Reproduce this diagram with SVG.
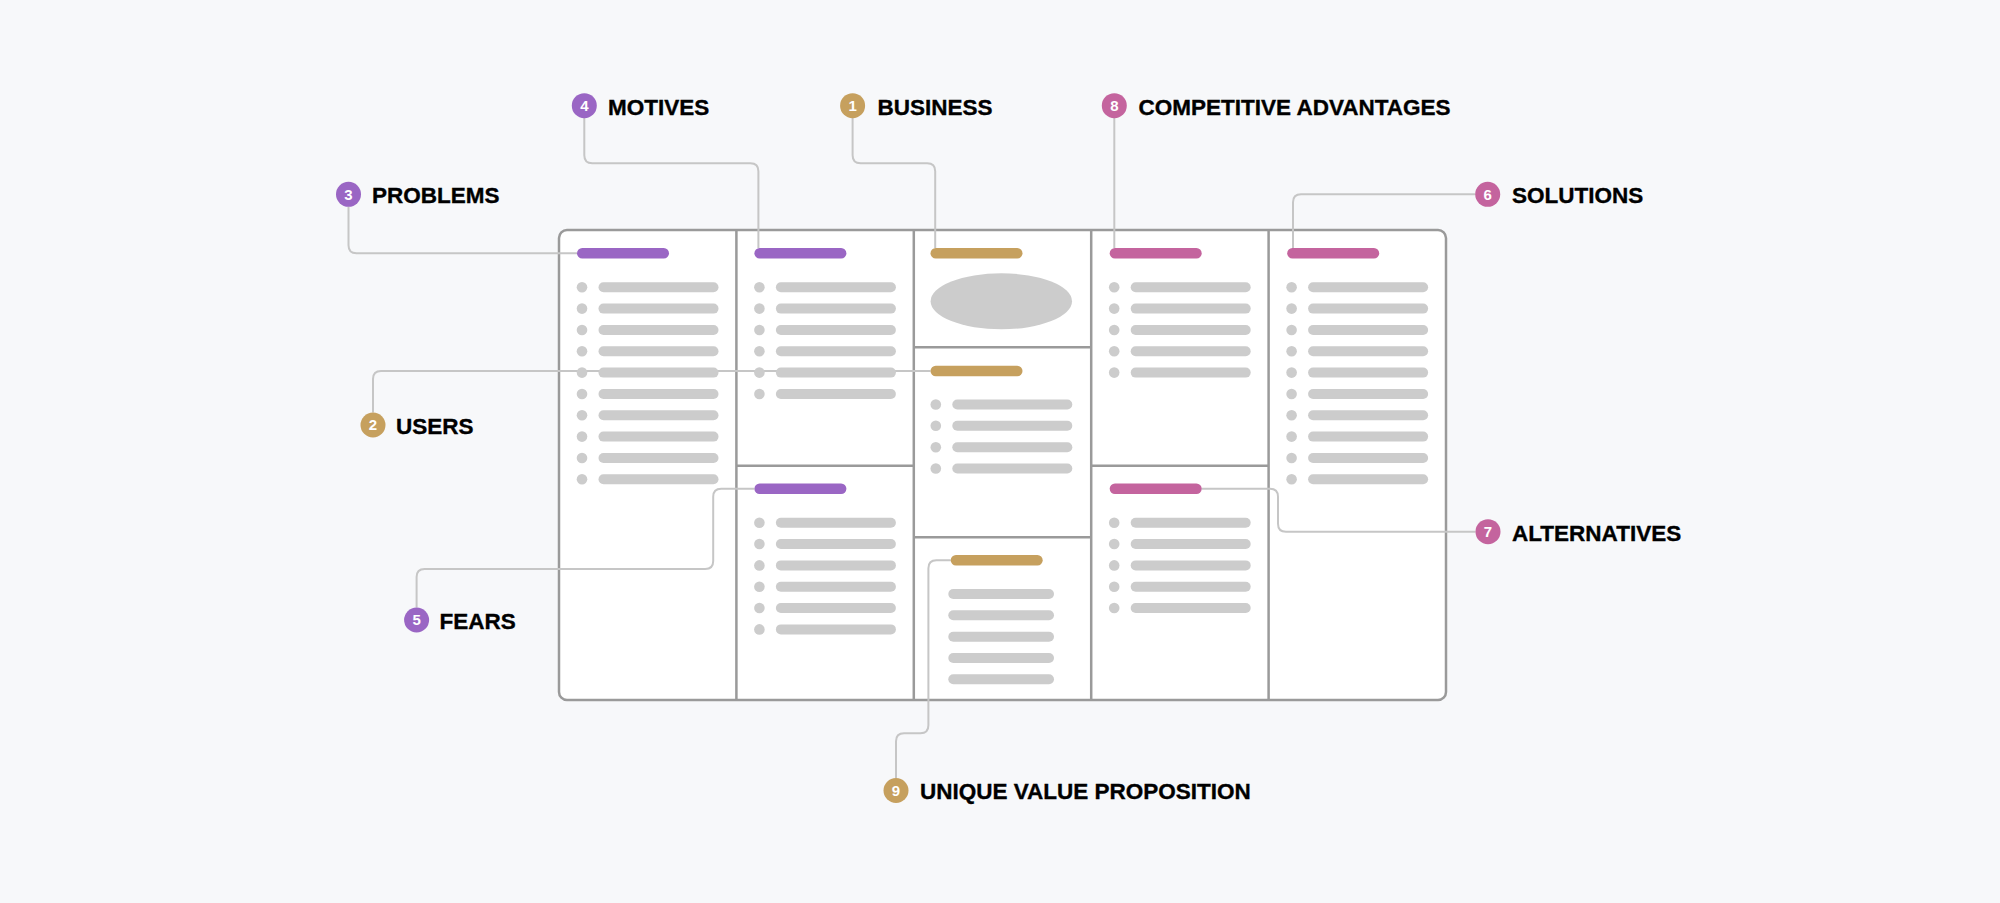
<svg xmlns="http://www.w3.org/2000/svg" xmlns:xlink="http://www.w3.org/1999/xlink" width="2000" height="903" viewBox="0 0 2000 903">
<style>
.bg{fill:#f7f8fa}
.frame{fill:#ffffff;stroke:#9a9a9a;stroke-width:2.5}
.div{stroke:#9a9a9a;stroke-width:2.5;fill:none}
.bp{fill:#9a66c4}
.bg2{fill:#c6a05e}
.bk{fill:#c4649e}
.item{fill:#cccccc}
.conn{fill:none;stroke:#c6c6c6;stroke-width:2}
.lbl{font-family:"Liberation Sans",Arial,sans-serif;font-weight:bold;font-size:22.5px;fill:#000000;stroke:#000000;stroke-width:0.35}
.num{font-family:"Liberation Sans",Arial,sans-serif;font-weight:bold;font-size:15px;fill:#ffffff;text-anchor:middle}
</style>
<defs>
<g id="row"><circle class="item" cx="0" cy="0" r="5.3"/><rect class="item" x="16.5" y="-5" width="120" height="10" rx="5"/></g>
<rect id="line" class="item" x="0" y="-5" width="105.7" height="10" rx="5"/>
</defs>
<rect class="bg" x="0" y="0" width="2000" height="903"/>

<g id="board">
<rect class="frame" x="559" y="230" width="887" height="470" rx="8"/>
<path class="div" d="M736.4 230V700M913.8 230V700M1091.2 230V700M1268.6 230V700M736.4 465.7H913.8M913.8 347.3H1091.2M913.8 537.3H1091.2M1091.2 465.7H1268.6"/>
</g>

<g id="connectors">
<path class="conn" d="M348.5 206.5V245.3Q348.5 253.3 356.5 253.3H577"/>
<path class="conn" d="M584.3 118V155.3Q584.3 163.3 592.3 163.3H750.4Q758.4 163.3 758.4 171.3V248"/>
<path class="conn" d="M852.6 118V155.3Q852.6 163.3 860.6 163.3H927.2Q935.2 163.3 935.2 171.3V248"/>
<path class="conn" d="M1114.3 118V248"/>
<path class="conn" d="M1475.2 194.3H1301Q1293 194.3 1293 202.3V248"/>
<path class="conn" d="M373 412.5V379Q373 371 381 371H930.5"/>
<path class="conn" d="M416.6 607.5V577Q416.6 569 424.6 569H705.2Q713.2 569 713.2 561V496.7Q713.2 488.7 721.2 488.7H754.4"/>
<path class="conn" d="M896 778V741.3Q896 733.3 904 733.3H920.4Q928.4 733.3 928.4 725.3V568.3Q928.4 560.3 936.4 560.3H950.7"/>
<path class="conn" d="M1201.4 488.8H1270Q1278 488.8 1278 496.8V523.7Q1278 531.7 1286 531.7H1475.5"/>
</g>

<g id="problems-section">
<rect class="bp" x="577" y="248" width="92" height="10.5" rx="5.25"/>
<use xlink:href="#row" x="582" y="287.3"/><use xlink:href="#row" x="582" y="308.6"/><use xlink:href="#row" x="582" y="330"/><use xlink:href="#row" x="582" y="351.3"/><use xlink:href="#row" x="582" y="372.6"/><use xlink:href="#row" x="582" y="394"/><use xlink:href="#row" x="582" y="415.3"/><use xlink:href="#row" x="582" y="436.6"/><use xlink:href="#row" x="582" y="458"/><use xlink:href="#row" x="582" y="479.3"/>
</g>
<g id="motives-section">
<rect class="bp" x="754.4" y="248" width="92" height="10.5" rx="5.25"/>
<use xlink:href="#row" x="759.4" y="287.3"/><use xlink:href="#row" x="759.4" y="308.6"/><use xlink:href="#row" x="759.4" y="330"/><use xlink:href="#row" x="759.4" y="351.3"/><use xlink:href="#row" x="759.4" y="372.6"/><use xlink:href="#row" x="759.4" y="394"/>
</g>
<g id="fears-section">
<rect class="bp" x="754.4" y="483.5" width="92" height="10.5" rx="5.25"/>
<use xlink:href="#row" x="759.4" y="522.7"/><use xlink:href="#row" x="759.4" y="544"/><use xlink:href="#row" x="759.4" y="565.4"/><use xlink:href="#row" x="759.4" y="586.7"/><use xlink:href="#row" x="759.4" y="608"/><use xlink:href="#row" x="759.4" y="629.4"/>
</g>
<g id="business-section">
<rect class="bg2" x="930.5" y="248" width="92" height="10.5" rx="5.25"/>
<ellipse class="item" cx="1001.3" cy="301.3" rx="70.7" ry="28"/>
</g>
<g id="users-section">
<rect class="bg2" x="930.5" y="365.7" width="92" height="10.5" rx="5.25"/>
<use xlink:href="#row" x="935.8" y="404.5"/><use xlink:href="#row" x="935.8" y="425.8"/><use xlink:href="#row" x="935.8" y="447.2"/><use xlink:href="#row" x="935.8" y="468.5"/>
</g>
<g id="uvp-section">
<rect class="bg2" x="950.7" y="555" width="92" height="10.5" rx="5.25"/>
<use xlink:href="#line" x="948.3" y="594"/><use xlink:href="#line" x="948.3" y="615.3"/><use xlink:href="#line" x="948.3" y="636.7"/><use xlink:href="#line" x="948.3" y="658"/><use xlink:href="#line" x="948.3" y="679.3"/>
</g>
<g id="advantages-section">
<rect class="bk" x="1109.7" y="248" width="92" height="10.5" rx="5.25"/>
<use xlink:href="#row" x="1114.2" y="287.3"/><use xlink:href="#row" x="1114.2" y="308.6"/><use xlink:href="#row" x="1114.2" y="330"/><use xlink:href="#row" x="1114.2" y="351.3"/><use xlink:href="#row" x="1114.2" y="372.6"/>
</g>
<g id="alternatives-section">
<rect class="bk" x="1109.7" y="483.5" width="92" height="10.5" rx="5.25"/>
<use xlink:href="#row" x="1114.2" y="522.7"/><use xlink:href="#row" x="1114.2" y="544"/><use xlink:href="#row" x="1114.2" y="565.4"/><use xlink:href="#row" x="1114.2" y="586.7"/><use xlink:href="#row" x="1114.2" y="608"/>
</g>
<g id="solutions-section">
<rect class="bk" x="1287.2" y="248" width="92" height="10.5" rx="5.25"/>
<use xlink:href="#row" x="1291.6" y="287.3"/><use xlink:href="#row" x="1291.6" y="308.6"/><use xlink:href="#row" x="1291.6" y="330"/><use xlink:href="#row" x="1291.6" y="351.3"/><use xlink:href="#row" x="1291.6" y="372.6"/><use xlink:href="#row" x="1291.6" y="394"/><use xlink:href="#row" x="1291.6" y="415.3"/><use xlink:href="#row" x="1291.6" y="436.6"/><use xlink:href="#row" x="1291.6" y="458"/><use xlink:href="#row" x="1291.6" y="479.3"/>
</g>

<g id="label-business"><circle class="bg2" cx="852.6" cy="105.7" r="12.5"/><text class="num" x="852.6" y="111">1</text><text class="lbl" x="877.6" y="114.5">BUSINESS</text></g>
<g id="label-users"><circle class="bg2" cx="373" cy="425" r="12.5"/><text class="num" x="373" y="430.3">2</text><text class="lbl" x="396" y="433.8">USERS</text></g>
<g id="label-problems"><circle class="bp" cx="348.5" cy="194.3" r="12.5"/><text class="num" x="348.5" y="199.6">3</text><text class="lbl" x="372" y="203.1">PROBLEMS</text></g>
<g id="label-motives"><circle class="bp" cx="584.3" cy="105.7" r="12.5"/><text class="num" x="584.3" y="111">4</text><text class="lbl" x="608" y="114.5">MOTIVES</text></g>
<g id="label-fears"><circle class="bp" cx="416.6" cy="620" r="12.5"/><text class="num" x="416.6" y="625.3">5</text><text class="lbl" x="439.4" y="628.8">FEARS</text></g>
<g id="label-solutions"><circle class="bk" cx="1487.7" cy="194.3" r="12.5"/><text class="num" x="1487.7" y="199.6">6</text><text class="lbl" x="1512" y="203.1">SOLUTIONS</text></g>
<g id="label-alternatives"><circle class="bk" cx="1488" cy="531.7" r="12.5"/><text class="num" x="1488" y="537">7</text><text class="lbl" x="1512" y="540.5">ALTERNATIVES</text></g>
<g id="label-advantages"><circle class="bk" cx="1114.3" cy="105.7" r="12.5"/><text class="num" x="1114.3" y="111">8</text><text class="lbl" x="1138.5" y="114.5">COMPETITIVE ADVANTAGES</text></g>
<g id="label-uvp"><circle class="bg2" cx="896" cy="790.5" r="12.5"/><text class="num" x="896" y="795.8">9</text><text class="lbl" x="920" y="799.3">UNIQUE VALUE PROPOSITION</text></g>
</svg>
